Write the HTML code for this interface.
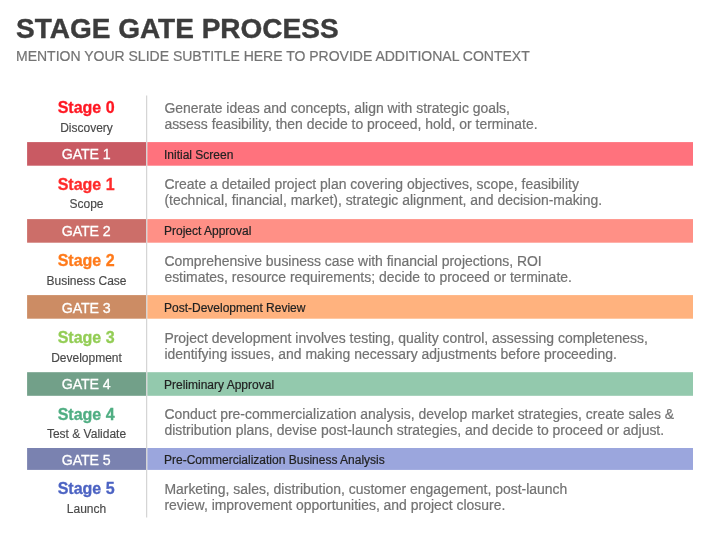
<!DOCTYPE html>
<html><head><meta charset="utf-8">
<style>
html,body{margin:0;padding:0;background:#fff;}
body{width:720px;height:540px;position:relative;overflow:hidden;font-family:"Liberation Sans",sans-serif;}
.t{position:absolute;white-space:nowrap;}
h1{position:absolute;left:16px;top:12px;margin:0;font-size:28px;font-weight:bold;color:#3c3c3c;-webkit-text-stroke:0.4px #3c3c3c;line-height:34px;white-space:nowrap;}
.sub{left:16px;top:47px;font-size:14px;color:#747474;-webkit-text-stroke:0.2px #747474;line-height:18px;}
.gl{position:absolute;left:26.6px;width:119px;height:24px;color:#fff;-webkit-text-stroke:0.3px #fff;font-size:14.2px;letter-spacing:-0.12px;line-height:24px;text-align:center;}
.gr{position:absolute;left:147px;width:546px;height:24px;color:#222;-webkit-text-stroke:0.2px #222;font-size:12px;line-height:27px;box-sizing:border-box;padding-left:17px;}
.st{position:absolute;left:26.6px;width:119px;text-align:center;font-size:16px;font-weight:bold;line-height:20px;-webkit-text-stroke:0.3px currentColor;}
.sn{position:absolute;left:27px;width:119px;text-align:center;font-size:12px;color:#494949;-webkit-text-stroke:0.15px #494949;line-height:16px;}
.d{position:absolute;left:164.4px;font-size:13.95px;color:#727272;-webkit-text-stroke:0.2px #727272;line-height:16px;white-space:nowrap;}
</style></head><body>
<h1>STAGE GATE PROCESS</h1>
<div class="t sub">MENTION YOUR SLIDE SUBTITLE HERE TO PROVIDE ADDITIONAL CONTEXT</div>
<svg width="720" height="540" style="position:absolute;left:0;top:0">
<rect x="27.1" y="142.1" width="119" height="23.6" fill="#c95a63"/>
<rect x="147.2" y="142.1" width="545.8" height="23.6" fill="#ff727d"/>
<rect x="27.1" y="219.1" width="119" height="23.6" fill="#cc6e69"/>
<rect x="147.2" y="219.1" width="545.8" height="23.6" fill="#ff9086"/>
<rect x="27.1" y="295.1" width="119" height="23.6" fill="#cc8c64"/>
<rect x="147.2" y="295.1" width="545.8" height="23.6" fill="#ffb27e"/>
<rect x="27.1" y="372.2" width="119" height="23.6" fill="#72a089"/>
<rect x="147.2" y="372.2" width="545.8" height="23.6" fill="#93c9ad"/>
<rect x="27.1" y="448.0" width="119" height="21.9" fill="#7a82b0"/>
<rect x="147.2" y="448.0" width="545.8" height="21.9" fill="#9ba6dd"/>
<rect x="146" y="95.5" width="1.25" height="422" fill="#d5d5d5"/>
</svg>

<div class="st" style="top:98px;color:#ff1722">Stage 0</div>
<div class="sn" style="top:120px">Discovery</div>
<div class="d" style="top:100px">Generate ideas and concepts, align with strategic goals,<br>assess feasibility, then decide to proceed, hold, or terminate.</div>

<div class="gl" style="top:142px;">GATE 1</div>
<div class="gr" style="top:142px;">Initial Screen</div>

<div class="st" style="top:175px;color:#ff2a2a">Stage 1</div>
<div class="sn" style="top:196px">Scope</div>
<div class="d" style="top:176px">Create a detailed project plan covering objectives, scope, feasibility<br>(technical, financial, market), strategic alignment, and decision-making.</div>

<div class="gl" style="top:219px;">GATE 2</div>
<div class="gr" style="top:218px;">Project Approval</div>

<div class="st" style="top:251px;color:#ff7a1a">Stage 2</div>
<div class="sn" style="top:273px">Business Case</div>
<div class="d" style="top:253px">Comprehensive business case with financial projections, ROI<br>estimates, resource requirements; decide to proceed or terminate.</div>

<div class="gl" style="top:296px;">GATE 3</div>
<div class="gr" style="top:295px;">Post-Development Review</div>

<div class="st" style="top:328px;color:#93cd55">Stage 3</div>
<div class="sn" style="top:350px">Development</div>
<div class="d" style="top:330px">Project development involves testing, quality control, assessing completeness,<br>identifying issues, and making necessary adjustments before proceeding.</div>

<div class="gl" style="top:372px;">GATE 4</div>
<div class="gr" style="top:372px;">Preliminary Approval</div>

<div class="st" style="top:405px;color:#50ae83">Stage 4</div>
<div class="sn" style="top:426px">Test &amp; Validate</div>
<div class="d" style="top:406px">Conduct pre-commercialization analysis, develop market strategies, create sales &amp;<br>distribution plans, devise post-launch strategies, and decide to proceed or adjust.</div>

<div class="gl" style="top:448px;">GATE 5</div>
<div class="gr" style="top:447px;">Pre-Commercialization Business Analysis</div>

<div class="st" style="top:479px;color:#4c63c3">Stage 5</div>
<div class="sn" style="top:501px">Launch</div>
<div class="d" style="top:481px">Marketing, sales, distribution, customer engagement, post-launch<br>review, improvement opportunities, and project closure.</div>
</body></html>
